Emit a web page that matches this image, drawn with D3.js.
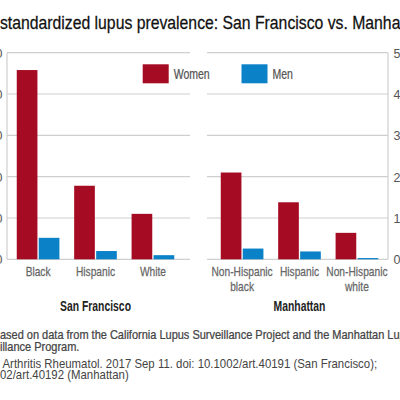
<!DOCTYPE html>
<html>
<head>
<meta charset="utf-8">
<script src="https://cdn.jsdelivr.net/npm/d3@7"></script>
<style>
  html, body { margin: 0; padding: 0; background: #fff; overflow: hidden; }
  svg { display: block; font-family: "Liberation Sans", Arial, sans-serif; }
</style>
</head>
<body>
<div id="chart"></div>
<script>
// age-standardized prevalence per 100,000
const sfCategories = [["Black"], ["Hispanic"], ["White"]];
const sfWomen = [458, 178, 110];
const sfMen = [52, 20, 10];

const mhCategories = [["Non-Hispanic", "black"], ["Hispanic"], ["Non-Hispanic", "white"]];
const mhWomen = [210, 138, 64];
const mhMen = [26, 19, 3];

const seriesNames = ["Women", "Men"];
const yTicks = [0, 100, 200, 300, 400, 500];

const colorMap = { Women: "#a50b22", Men: "#0b82c8" };
const GRID = "#cfcfcf";
const AXIS_TXT = "#555";

const W = 400, H = 400;
const svg = d3.select("#chart").append("svg")
  .attr("width", W).attr("height", H);

// measure a string at a given font size / weight
function measure(str, size, weight) {
  const t = svg.append("text").style("font-size", size + "px")
    .style("font-weight", weight || "normal").text(str);
  const w = t.node().getComputedTextLength();
  t.remove();
  return w;
}

// the source uses a condensed face: squeeze horizontally to match
function squeeze(sample, targetW, size, weight) {
  return targetW / measure(sample, size, weight);
}

function addText(parent, o) {
  const fill = o.fill || "#333";
  const t = parent.append("text")
    .attr("transform", `translate(${o.x},${o.y}) scale(${o.sx},1)`)
    .attr("text-anchor", o.anchor || "start")
    .style("font-size", o.size + "px")
    .style("font-weight", o.weight || "normal")
    .style("fill", fill)
    .text(o.text);
  // squeezed glyphs get thin, give them a touch of weight back
  if (o.sx < 0.95 && o.weight !== "bold") {
    t.style("stroke", fill).style("stroke-width", 0.25);
  }
  return t;
}

// text whose left part is cut off by the frame
function addCropped(parent, o) {
  const pw = measure(o.prefix, o.size, o.weight) * o.sx;
  return addText(parent, Object.assign({}, o, { x: o.x - pw }));
}

const y = d3.scaleLinear().domain([0, 500]).range([259.3, 52.7]);

const sxTitle = squeeze("standardized lupus prevalence: San Francisco vs. Manha", 401, 18);
const sxLabel = squeeze("Non-Hispanic", 61.3, 13);
const sxPanel = squeeze("San Francisco", 71, 14, "bold");
const sxLegend = squeeze("Women", 36, 14);
const sxNote = squeeze("Arthritis Rheumatol. 2017 Sep 11. doi: 10.1002/art.40191 (San Francisco);", 375, 12);
const sxNote1 = squeeze("ased on data from the California Lupus Surveillance Project and the Manhattan Lu", 400, 12);

addCropped(svg, { x: 0, y: 29, size: 18, fill: "#111", sx: sxTitle,
  text: "Age-standardized lupus prevalence: San Francisco vs. Manhattan", prefix: "Age-" });

// panels
const panels = [
  { name: "San Francisco", cats: sfCategories, women: sfWomen, men: sfMen,
    gx: [7, 190], band: [7, 184], axis: "left" },
  { name: "Manhattan", cats: mhCategories, women: mhWomen, men: mhMen,
    gx: [207, 388], band: [211, 388], axis: "right" }
];

panels.forEach(p => {
  const g = svg.append("g");

  // gridlines
  g.selectAll(".grid").data(yTicks).enter().append("line")
    .attr("x1", p.gx[0]).attr("x2", p.gx[1])
    .attr("y1", d => y(d)).attr("y2", d => y(d))
    .attr("stroke", GRID).attr("stroke-width", 1.2);

  // vertical axis line
  const ax = p.axis === "left" ? p.gx[0] : p.gx[1];
  g.append("line")
    .attr("x1", ax).attr("x2", ax)
    .attr("y1", y(500)).attr("y2", y(0))
    .attr("stroke", GRID).attr("stroke-width", 1.2);

  // tick labels
  yTicks.forEach(d => {
    addText(g, { x: p.axis === "left" ? ax - 4.5 : ax + 5.5, y: y(d) + 5,
      anchor: p.axis === "left" ? "end" : "start", size: 12.5, fill: AXIS_TXT,
      sx: 1, text: d });
  });

  const x0 = d3.scaleBand()
    .domain(d3.range(p.cats.length))
    .range(p.band)
    .paddingInner(0.257).paddingOuter(0.17);
  const x1 = d3.scaleBand()
    .domain(seriesNames)
    .range([0, x0.bandwidth()])
    .paddingInner(0.06);

  const rows = p.cats.map((c, i) => ({ i, values: [
    { key: "Women", value: p.women[i] },
    { key: "Men", value: p.men[i] }
  ]}));

  const grp = g.selectAll(".grp").data(rows).enter().append("g")
    .attr("transform", d => `translate(${x0(d.i)},0)`);

  grp.selectAll("rect").data(d => d.values).enter().append("rect")
    .attr("x", d => x1(d.key))
    .attr("width", x1.bandwidth())
    .attr("y", d => y(d.value))
    .attr("height", d => y(0) - y(d.value))
    .attr("fill", d => colorMap[d.key]);

  // category labels (one or two lines)
  p.cats.forEach((lines, i) => {
    lines.forEach((line, k) => {
      addText(g, { x: x0(i) + x0.bandwidth() / 2, y: 275.5 + k * 15,
        anchor: "middle", size: 13, fill: "#666", sx: sxLabel, text: line });
    });
  });

  // panel name
  addText(g, { x: (x0(0) + x0(p.cats.length - 1) + x0.bandwidth()) / 2, y: 311,
    anchor: "middle", size: 14, weight: "bold", fill: "#222", sx: sxPanel, text: p.name });
});

// legend
const legendX = [142.7, 241.5];
seriesNames.forEach((s, i) => {
  const lg = svg.append("g").attr("transform", `translate(${legendX[i]},64.3)`);
  lg.append("rect").attr("width", 26).attr("height", 19).attr("fill", colorMap[s]);
  addText(lg, { x: 31, y: 14.5, size: 14, fill: AXIS_TXT, sx: sxLegend, text: s });
});

// footnotes
const notes = [
  ["Note: Based on data from the California Lupus Surveillance Project and the Manhattan Lupus", "Note: B", 0, 339, sxNote1],
  ["Surveillance Program.", "Surve", 0, 351, sxNote1],
  ["Source: Arthritis Rheumatol. 2017 Sep 11. doi: 10.1002/art.40191 (San Francisco);", "Source:", 0, 367.5, sxNote],
  ["10.1002/art.40192 (Manhattan)", "10.10", 0, 379, sxNote]
];
notes.forEach(n => {
  addCropped(svg, { x: n[2], y: n[3], size: 12, fill: "#444", sx: n[4],
    text: n[0], prefix: n[1] });
});
</script>
</body>
</html>
